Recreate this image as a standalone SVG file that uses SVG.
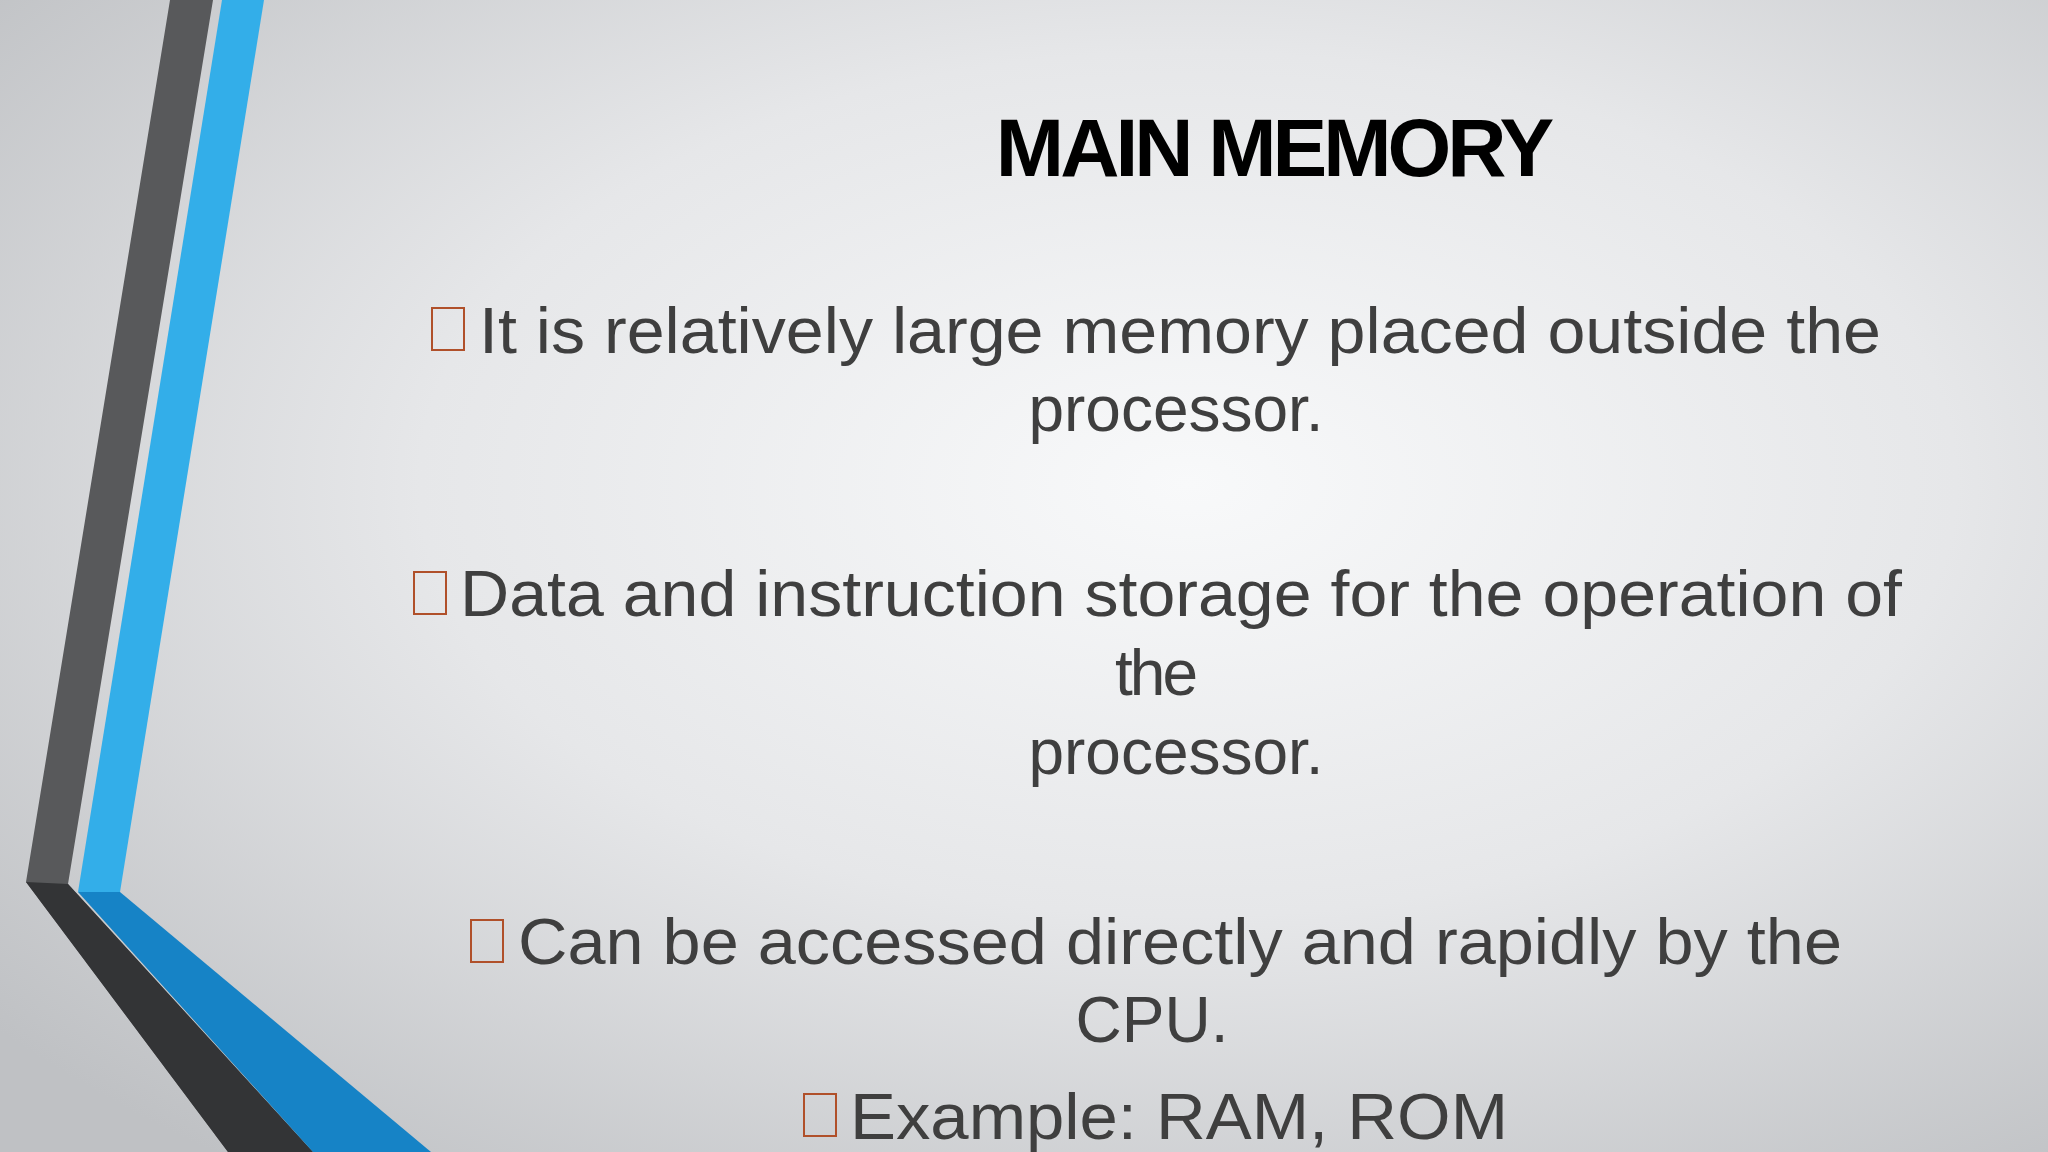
<svg xmlns="http://www.w3.org/2000/svg" width="2048" height="1152" viewBox="0 0 2048 1152">
<defs>
<radialGradient id="bg" cx="0.58" cy="0.42" r="0.75">
<stop offset="0" stop-color="#f8f9fa"/><stop offset="0.5" stop-color="#e6e7e9"/><stop offset="1" stop-color="#bfc1c4"/>
</radialGradient>
<style>
.t{font-family:"Liberation Sans",Arial,sans-serif;font-size:64px;fill:#3f3f3f}
.b{fill:none;stroke:#b0502a;stroke-width:2}
</style>
</defs>
<rect width="2048" height="1152" fill="url(#bg)"/>
<g id="stripes">
<polygon points="170,0 213,0 68,884 313,1152 228,1152 26,882" fill="#58595b"/>
<polygon points="26,882 68,884 313,1152 228,1152" fill="#333436"/>
<polygon points="222,0 264,0 120,892 78,892" fill="#33aee9"/>
<polygon points="78,892 120,892 431,1152 313,1152" fill="#1683c6"/>
</g>
<g id="title"><text x="1273" y="176" text-anchor="middle" font-family="Liberation Sans,Arial,sans-serif" font-weight="bold" font-size="82" letter-spacing="-4" fill="#000">MAIN MEMORY</text></g>
<g id="bullet1">
<rect class="b" x="432" y="308" width="32" height="42"/>
<text class="t" x="479" y="353" textLength="1402" lengthAdjust="spacingAndGlyphs">It  is relatively large memory placed outside the</text>
<text class="t" x="1176" y="431" text-anchor="middle">processor.</text>
</g>
<g id="bullet2">
<rect class="b" x="414" y="572" width="32" height="42"/>
<text class="t" x="460" y="616" textLength="1442" lengthAdjust="spacingAndGlyphs">Data  and instruction storage for the operation of</text>
<text class="t" x="1155" y="695" text-anchor="middle" letter-spacing="-3">the</text>
<text class="t" x="1176" y="774" text-anchor="middle">processor.</text>
</g>
<g id="bullet3">
<rect class="b" x="471" y="920" width="32" height="42"/>
<text class="t" x="518" y="964" textLength="1324" lengthAdjust="spacingAndGlyphs">Can  be accessed directly and rapidly by the</text>
<text class="t" x="1152" y="1042" text-anchor="middle">CPU.</text>
</g>
<g id="bullet4">
<rect class="b" x="804" y="1094" width="32" height="42"/>
<text class="t" x="850" y="1139" textLength="658" lengthAdjust="spacingAndGlyphs">Example: RAM, ROM</text>
</g>
</svg>
